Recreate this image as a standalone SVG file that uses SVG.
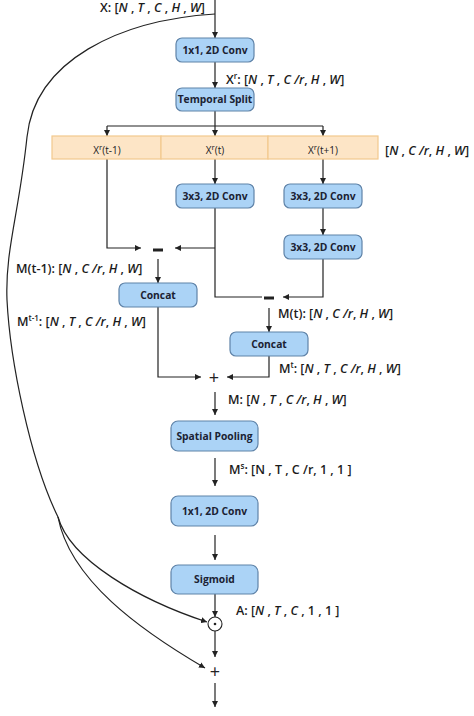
<svg xmlns="http://www.w3.org/2000/svg" width="474" height="716" viewBox="0 0 474 716">
<defs>
<marker id="ah" viewBox="0 0 10 10" refX="10" refY="5" markerWidth="6" markerHeight="6" markerUnits="userSpaceOnUse" orient="auto">
<path d="M0,0 L10,5 L0,10 z" fill="#222"/>
</marker>
<style>
.box{fill:#abd3f6;stroke:#5f83a8;stroke-width:1.2}
.bt{font-family:"Open Sans","Noto Sans",sans-serif;font-weight:bold;font-size:10.3px;fill:#1b2233;text-anchor:middle}
.cell{fill:#fde5c6;stroke:#f2c98e;stroke-width:1.2}
.ct{font-family:"Open Sans","Noto Sans",sans-serif;font-size:10px;fill:#222;text-anchor:middle}
.lb{font-family:"Open Sans","Noto Sans",sans-serif;font-weight:600;font-size:12.5px;fill:#1b1b1b}
.it{font-style:italic}
.ln{fill:none;stroke:#222;stroke-width:1.2}
.ar{fill:none;stroke:#222;stroke-width:1.2;marker-end:url(#ah)}
.op{font-family:"Open Sans","Noto Sans",sans-serif;font-size:18px;fill:#222;text-anchor:middle}
.sup{font-size:8px}
</style>
</defs>
<rect width="474" height="716" fill="#fff"/>

<g id="connectors">
<path class="ar" d="M215,0 V38"/>
<path class="ar" d="M215,62 V88"/>
<path class="ln" d="M215,111 V126 M107,126 H323"/>
<path class="ar" d="M107,126 V136"/>
<path class="ar" d="M215,126 V136"/>
<path class="ar" d="M323,126 V136"/>
<path class="ar" d="M107,159 V248 H141"/>
<path class="ar" d="M215,159 V184"/>
<path class="ar" d="M323,159 V184"/>
<path class="ar" d="M323,208 V235"/>
<path class="ln" d="M215,208 V297 H262"/>
<path class="ar" d="M215,248 H175"/>
<path class="ar" d="M323,259 V297 H283"/>
<path class="ar" d="M158,259 V283"/>
<path class="ar" d="M269,308 V332"/>
<path class="ar" d="M158,307 V377 H201"/>
<path class="ar" d="M269,356 V377 H227"/>
<path class="ar" d="M215,392 V415"/>
<path class="ar" d="M215,458 V486"/>
<path class="ar" d="M215,535 V560"/>
<path class="ar" d="M215,594 V617"/>
<path class="ar" d="M215,631 V657"/>
<path class="ar" d="M215,683 V707"/>
<path class="ar" d="M215,14 C120,20 35,60 27,137 C19,214 5,250 7,300 C10,360 30,460 58,517 C70,560 140,600 207,622"/>
<path class="ar" d="M58,517 C70,580 140,630 205,668"/>
</g>

<g id="x-label"><text class="lb" x="100" y="12">X:  [<tspan class="it">N</tspan> , <tspan class="it">T</tspan> , <tspan class="it">C</tspan> , <tspan class="it">H</tspan> , <tspan class="it">W</tspan>]</text></g>

<g id="conv1"><rect class="box" x="176" y="38" width="78" height="24" rx="6"/><text class="bt" x="215" y="53.7">1x1, 2D Conv</text></g>
<g id="xr-label"><text class="lb" x="226" y="83.5">X<tspan class="sup" dy="-5">r</tspan><tspan dy="5">:  [</tspan><tspan class="it">N</tspan> , <tspan class="it">T</tspan> , <tspan class="it">C /r</tspan>, <tspan class="it">H</tspan> , <tspan class="it">W</tspan>]</text></g>

<g id="split"><rect class="box" x="176" y="88" width="78" height="23" rx="6"/><text class="bt" x="215" y="103.2">Temporal Split</text></g>

<g id="frames">
<rect class="cell" x="52" y="136" width="109" height="23"/>
<rect class="cell" x="161" y="136" width="107" height="23"/>
<rect class="cell" x="268" y="136" width="110" height="23"/>
<text class="ct" x="107" y="154">X<tspan class="sup" dy="-4">r</tspan><tspan dy="4">(t-1)</tspan></text>
<text class="ct" x="215" y="154">X<tspan class="sup" dy="-4">r</tspan><tspan dy="4">(t)</tspan></text>
<text class="ct" x="323" y="154">X<tspan class="sup" dy="-4">r</tspan><tspan dy="4">(t+1)</tspan></text>
</g>
<g id="frame-dims"><text class="lb" x="385" y="154.5">[<tspan class="it">N</tspan> , <tspan class="it">C /r</tspan>, <tspan class="it">H</tspan> , <tspan class="it">W</tspan>]</text></g>

<g id="conv-t"><rect class="box" x="176" y="184" width="78" height="24" rx="6"/><text class="bt" x="215" y="199.7">3x3, 2D Conv</text></g>
<g id="conv-t1a"><rect class="box" x="284" y="184" width="78" height="24" rx="6"/><text class="bt" x="323" y="199.7">3x3, 2D Conv</text></g>
<g id="conv-t1b"><rect class="box" x="284" y="235" width="78" height="24" rx="6"/><text class="bt" x="323" y="250.7">3x3, 2D Conv</text></g>

<g id="minus1"><rect x="153" y="248.5" width="10" height="3" fill="#222"/></g>
<g id="minus2"><rect x="264" y="296.5" width="10" height="3" fill="#222"/></g>

<g id="mt1-label"><text class="lb" x="16" y="272.5">M(t-1):  [<tspan class="it">N</tspan> , <tspan class="it">C /r</tspan>, <tspan class="it">H</tspan> , <tspan class="it">W</tspan>]</text></g>
<g id="concat1"><rect class="box" x="119" y="283" width="78" height="24" rx="6"/><text class="bt" x="158" y="298.7">Concat</text></g>
<g id="mt1b-label"><text class="lb" x="17" y="325.5">M<tspan class="sup" dy="-5">t-1</tspan><tspan dy="5">:  [</tspan><tspan class="it">N</tspan> , <tspan class="it">T</tspan> , <tspan class="it">C /r</tspan>, <tspan class="it">H</tspan> , <tspan class="it">W</tspan>]</text></g>

<g id="mt-label"><text class="lb" x="278" y="317.5">M(t):  [<tspan class="it">N</tspan> , <tspan class="it">C /r</tspan>, <tspan class="it">H</tspan> , <tspan class="it">W</tspan>]</text></g>
<g id="concat2"><rect class="box" x="230" y="332" width="78" height="24" rx="6"/><text class="bt" x="269" y="347.7">Concat</text></g>
<g id="mtb-label"><text class="lb" x="279" y="372.5">M<tspan class="sup" dy="-5">t</tspan><tspan dy="5">:  [</tspan><tspan class="it">N</tspan> , <tspan class="it">T</tspan> , <tspan class="it">C /r</tspan>, <tspan class="it">H</tspan> , <tspan class="it">W</tspan>]</text></g>

<g id="plus1"><text class="op" x="214" y="384">+</text></g>
<g id="m-label"><text class="lb" x="228" y="403.5">M:  [<tspan class="it">N</tspan> , <tspan class="it">T</tspan> , <tspan class="it">C /r</tspan>, <tspan class="it">H</tspan> , <tspan class="it">W</tspan>]</text></g>

<g id="pool"><rect class="box" x="171" y="421" width="87" height="30" rx="7"/><text class="bt" x="214.5" y="439.7">Spatial Pooling</text></g>
<g id="ms-label"><text class="lb" x="229" y="473.5">M<tspan class="sup" dy="-5">s</tspan><tspan dy="5">:  [N , T , C /r, 1 , 1 ]</tspan></text></g>
<g id="conv2"><rect class="box" x="171" y="496" width="87" height="30" rx="7"/><text class="bt" x="214.5" y="514.7">1x1, 2D Conv</text></g>
<g id="sigmoid"><rect class="box" x="171" y="565" width="87" height="29" rx="7"/><text class="bt" x="214.5" y="583.2">Sigmoid</text></g>
<g id="a-label"><text class="lb" x="236" y="614.5">A:  [<tspan class="it">N</tspan> , <tspan class="it">T</tspan> , <tspan class="it">C</tspan> , 1 , 1 ]</text></g>
<g id="mul"><circle cx="215" cy="624" r="7" fill="#fff" stroke="#222" stroke-width="1.1"/><circle cx="215" cy="624" r="1.3" fill="#222"/></g>
<g id="plus2"><text class="op" x="215" y="678">+</text></g>
</svg>
